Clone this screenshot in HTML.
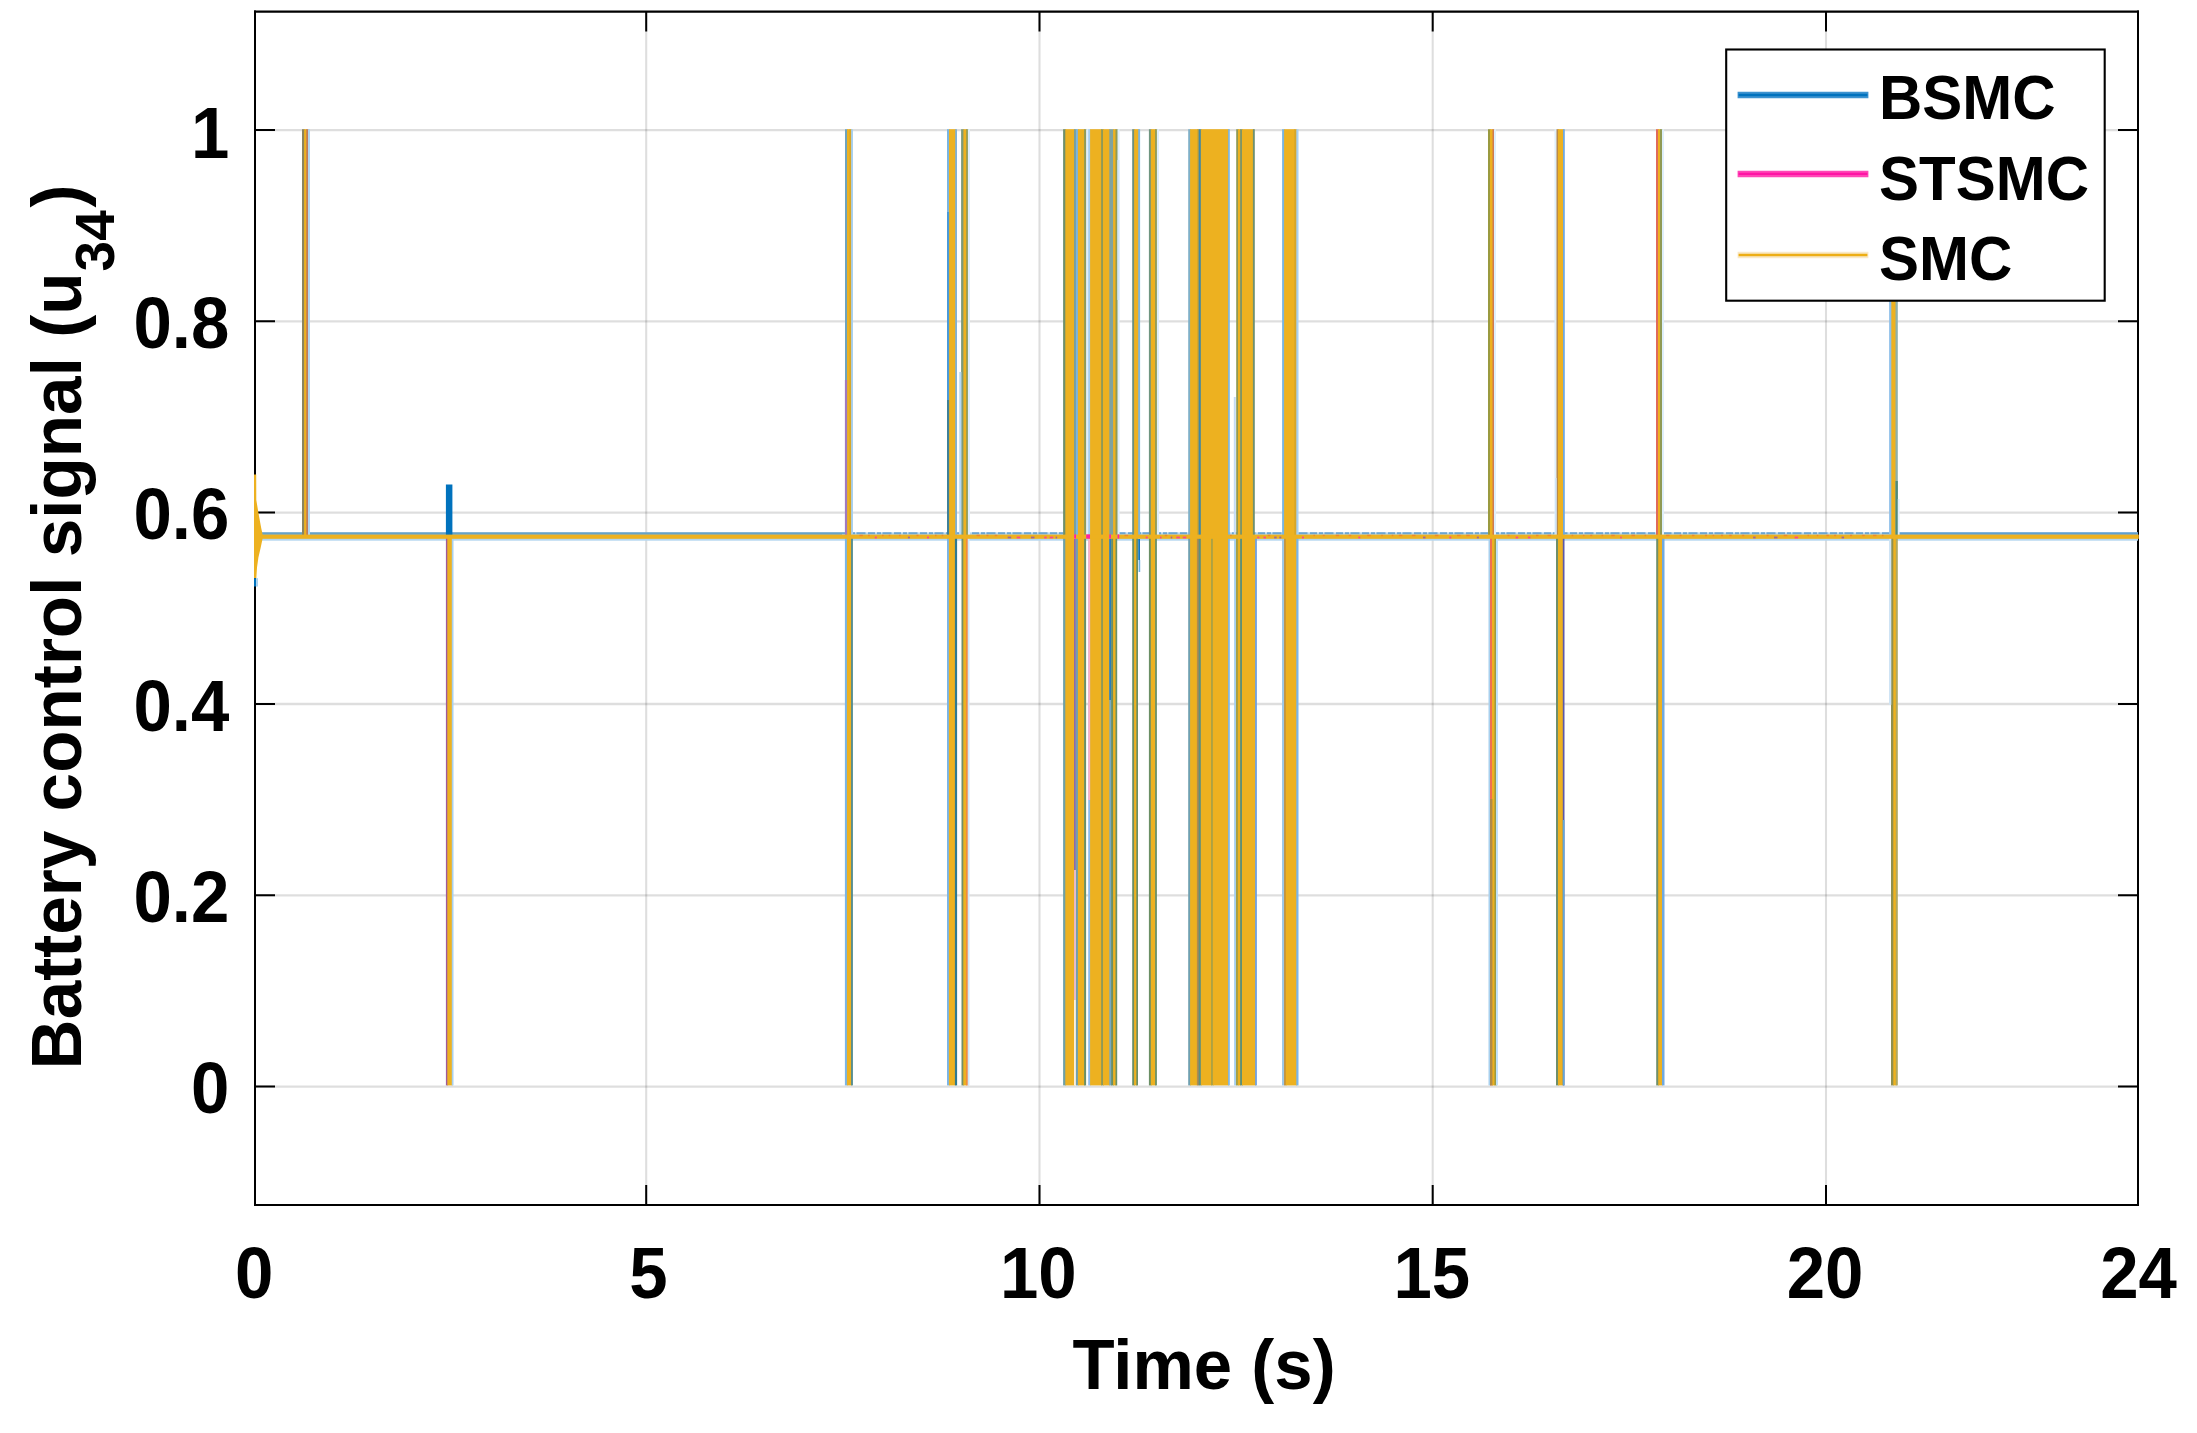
<!DOCTYPE html>
<html lang="en">
<head>
<meta charset="utf-8">
<title>Battery control signal (u34)</title>
<style>
html,body{margin:0;padding:0;background:#fff;}
body{width:2197px;height:1433px;overflow:hidden;}
svg{display:block;}
</style>
</head>
<body>
<svg width="2197" height="1433" viewBox="0 0 2197 1433" font-family="'Liberation Sans', sans-serif" font-weight="bold" shape-rendering="auto">
<rect x="0" y="0" width="2197" height="1433" fill="#ffffff"/>
<g stroke="#000" stroke-opacity="0.13" fill="none">
<line x1="646.2" y1="11.6" x2="646.2" y2="1205.0" stroke-width="2.1"/>
<line x1="1039.5" y1="11.6" x2="1039.5" y2="1205.0" stroke-width="2.1"/>
<line x1="1432.7" y1="11.6" x2="1432.7" y2="1205.0" stroke-width="2.1"/>
<line x1="1826.0" y1="11.6" x2="1826.0" y2="1205.0" stroke-width="2.1"/>
<line x1="255.0" y1="130.10" x2="2138.0" y2="130.10" stroke-width="2.3"/>
<line x1="255.0" y1="321.40" x2="2138.0" y2="321.40" stroke-width="2.3"/>
<line x1="255.0" y1="512.70" x2="2138.0" y2="512.70" stroke-width="2.3"/>
<line x1="255.0" y1="704.00" x2="2138.0" y2="704.00" stroke-width="2.3"/>
<line x1="255.0" y1="895.30" x2="2138.0" y2="895.30" stroke-width="2.3"/>
<line x1="255.0" y1="1086.60" x2="2138.0" y2="1086.60" stroke-width="2.3"/>
</g>
<g stroke="#000" stroke-width="2" fill="none" stroke-linecap="butt">
<path d="M255.0,10.6 V1206.0"/>
<path d="M2138.0,10.6 V1206.0"/>
<path d="M254.0,11.6 H2139.0" stroke-width="2.3"/>
<path d="M254.0,1205.0 H2139.0"/>
<path d="M646.2,1205.0 v-20 M646.2,11.6 v20"/>
<path d="M1039.5,1205.0 v-20 M1039.5,11.6 v20"/>
<path d="M1432.7,1205.0 v-20 M1432.7,11.6 v20"/>
<path d="M1826.0,1205.0 v-20 M1826.0,11.6 v20"/>
<path d="M255.0,130.0 h20 M2138.0,130.0 h-20"/>
<path d="M255.0,321.3 h20 M2138.0,321.3 h-20"/>
<path d="M255.0,512.6 h20 M2138.0,512.6 h-20"/>
<path d="M255.0,703.9 h20 M2138.0,703.9 h-20"/>
<path d="M255.0,895.2 h20 M2138.0,895.2 h-20"/>
<path d="M255.0,1086.5 h20 M2138.0,1086.5 h-20"/>
</g>
<g id="data">
<rect x="261.00" y="532.40" width="1877.00" height="8.30" fill="#b4d6f0"/>
<rect x="261.00" y="532.30" width="581.00" height="2.50" fill="#67a2c6"/>
<rect x="1898.00" y="532.30" width="240.00" height="2.50" fill="#5f9fd0"/>
<line x1="842" y1="533.3" x2="1898" y2="533.3" stroke="#6ba5d2" stroke-width="1.9" stroke-dasharray="7 2 4 1.5 9 2.5"/>
<rect x="445.90" y="484.50" width="6.50" height="51.70" fill="#0072bd"/>
<rect x="302.00" y="129.20" width="2.90" height="407.00" fill="#8a8560"/>
<rect x="304.10" y="129.20" width="3.00" height="407.00" fill="#edb120"/>
<rect x="306.30" y="129.20" width="2.50" height="407.00" fill="#c07a5a"/>
<rect x="308.00" y="129.20" width="2.00" height="407.00" fill="#b0d5f0"/>
<rect x="845.00" y="129.20" width="2.80" height="407.00" fill="#6fa3bd"/>
<rect x="847.00" y="129.20" width="3.30" height="407.00" fill="#edb120"/>
<rect x="849.50" y="129.20" width="2.40" height="407.00" fill="#d6a628"/>
<rect x="851.10" y="129.20" width="1.90" height="407.00" fill="#a8d0ee"/>
<rect x="947.00" y="129.20" width="2.80" height="407.00" fill="#7ab5e0"/>
<rect x="949.00" y="129.20" width="7.00" height="407.00" fill="#edb120"/>
<rect x="955.20" y="129.20" width="1.80" height="407.00" fill="#7fb0d5"/>
<rect x="961.10" y="129.20" width="3.10" height="407.00" fill="#7a9a7a"/>
<rect x="963.40" y="129.20" width="3.60" height="407.00" fill="#edb120"/>
<rect x="966.20" y="129.20" width="2.50" height="407.00" fill="#8f9a55"/>
<rect x="967.90" y="129.20" width="2.10" height="407.00" fill="#dfeffb"/>
<rect x="1063.10" y="129.20" width="3.00" height="407.00" fill="#6f8f6a"/>
<rect x="1065.30" y="129.20" width="9.50" height="407.00" fill="#edb120"/>
<rect x="1074.00" y="129.20" width="2.70" height="407.00" fill="#7a9f98"/>
<rect x="1075.90" y="129.20" width="2.80" height="407.00" fill="#7ab5e0"/>
<rect x="1077.90" y="129.20" width="7.00" height="407.00" fill="#edb120"/>
<rect x="1084.10" y="129.20" width="2.80" height="407.00" fill="#8f9a55"/>
<rect x="1086.10" y="129.20" width="2.90" height="407.00" fill="#dfeffb"/>
<rect x="1088.20" y="129.20" width="2.70" height="407.00" fill="#a8d0ee"/>
<rect x="1090.10" y="129.20" width="11.80" height="407.00" fill="#edb120"/>
<rect x="1101.10" y="129.20" width="2.70" height="407.00" fill="#8f9a55"/>
<rect x="1103.00" y="129.20" width="7.10" height="407.00" fill="#edb120"/>
<rect x="1109.30" y="129.20" width="4.60" height="407.00" fill="#7fa3a0"/>
<rect x="1113.10" y="129.20" width="3.20" height="407.00" fill="#edb120"/>
<rect x="1115.50" y="129.20" width="2.80" height="407.00" fill="#8f9a55"/>
<rect x="1117.50" y="129.20" width="2.10" height="407.00" fill="#dfeffb"/>
<rect x="1132.20" y="129.20" width="2.70" height="407.00" fill="#6a9080"/>
<rect x="1134.10" y="129.20" width="4.90" height="407.00" fill="#edb120"/>
<rect x="1138.20" y="129.20" width="1.90" height="407.00" fill="#7ab5e0"/>
<rect x="1148.90" y="129.20" width="2.70" height="407.00" fill="#6f9580"/>
<rect x="1150.80" y="129.20" width="5.10" height="407.00" fill="#edb120"/>
<rect x="1155.10" y="129.20" width="2.60" height="407.00" fill="#8f9a55"/>
<rect x="1156.90" y="129.20" width="2.10" height="407.00" fill="#dfeffb"/>
<rect x="1188.20" y="129.20" width="2.70" height="407.00" fill="#7fb0c8"/>
<rect x="1190.10" y="129.20" width="7.70" height="407.00" fill="#edb120"/>
<rect x="1197.00" y="129.20" width="2.40" height="407.00" fill="#d6a628"/>
<rect x="1198.60" y="129.20" width="3.00" height="407.00" fill="#3f88a5"/>
<rect x="1200.80" y="129.20" width="28.10" height="407.00" fill="#edb120"/>
<rect x="1228.10" y="129.20" width="1.70" height="407.00" fill="#7ab5e0"/>
<rect x="1236.20" y="129.20" width="2.60" height="407.00" fill="#8f9a55"/>
<rect x="1238.00" y="129.20" width="2.90" height="407.00" fill="#edb120"/>
<rect x="1240.10" y="129.20" width="2.70" height="407.00" fill="#7f9565"/>
<rect x="1242.00" y="129.20" width="11.70" height="407.00" fill="#edb120"/>
<rect x="1252.90" y="129.20" width="1.90" height="407.00" fill="#6f9070"/>
<rect x="1282.10" y="129.20" width="2.80" height="407.00" fill="#7ab5e0"/>
<rect x="1284.10" y="129.20" width="11.00" height="407.00" fill="#edb120"/>
<rect x="1294.30" y="129.20" width="2.80" height="407.00" fill="#d6a628"/>
<rect x="1296.30" y="129.20" width="2.20" height="407.00" fill="#a8d0ee"/>
<rect x="1488.00" y="129.20" width="2.80" height="407.00" fill="#9a9a40"/>
<rect x="1490.00" y="129.20" width="3.30" height="407.00" fill="#edb120"/>
<rect x="1492.50" y="129.20" width="2.30" height="407.00" fill="#d07a50"/>
<rect x="1494.00" y="129.20" width="2.00" height="407.00" fill="#dfeffb"/>
<rect x="1554.50" y="129.20" width="2.80" height="407.00" fill="#dfeffb"/>
<rect x="1556.50" y="129.20" width="2.30" height="407.00" fill="#b98a4a"/>
<rect x="1558.00" y="129.20" width="5.80" height="407.00" fill="#edb120"/>
<rect x="1563.00" y="129.20" width="1.80" height="407.00" fill="#6fa8e0"/>
<rect x="1656.00" y="129.20" width="2.80" height="407.00" fill="#e06a5a"/>
<rect x="1658.00" y="129.20" width="2.80" height="407.00" fill="#edb120"/>
<rect x="1660.00" y="129.20" width="2.80" height="407.00" fill="#8f9a55"/>
<rect x="1662.00" y="129.20" width="2.00" height="407.00" fill="#dfeffb"/>
<rect x="1889.10" y="129.20" width="3.00" height="407.00" fill="#8fc0ea"/>
<rect x="1891.30" y="129.20" width="5.00" height="407.00" fill="#edb120"/>
<rect x="1895.50" y="129.20" width="2.30" height="407.00" fill="#8fb0a8"/>
<rect x="445.90" y="536.20" width="2.20" height="549.20" fill="#a05a9a"/>
<rect x="447.30" y="536.20" width="5.30" height="549.20" fill="#edb120"/>
<rect x="451.80" y="536.20" width="1.70" height="549.20" fill="#a8d0ee"/>
<rect x="844.90" y="536.20" width="2.80" height="549.20" fill="#7ab5e8"/>
<rect x="846.90" y="536.20" width="5.00" height="549.20" fill="#edb120"/>
<rect x="851.10" y="536.20" width="1.80" height="549.20" fill="#4f8a90"/>
<rect x="947.00" y="536.20" width="2.70" height="549.20" fill="#7ab5e8"/>
<rect x="948.90" y="536.20" width="6.80" height="549.20" fill="#edb120"/>
<rect x="954.90" y="536.20" width="2.20" height="549.20" fill="#2f7890"/>
<rect x="961.50" y="536.20" width="2.60" height="549.20" fill="#6f8f6a"/>
<rect x="963.30" y="536.20" width="3.50" height="549.20" fill="#edb120"/>
<rect x="966.00" y="536.20" width="2.50" height="549.20" fill="#f08a40"/>
<rect x="967.70" y="536.20" width="1.80" height="549.20" fill="#cfe6fa"/>
<rect x="1063.10" y="536.20" width="3.00" height="549.20" fill="#6fa0a5"/>
<rect x="1065.30" y="536.20" width="9.50" height="549.20" fill="#edb120"/>
<rect x="1074.00" y="536.20" width="2.70" height="549.20" fill="#fdf0d8"/>
<rect x="1075.90" y="536.20" width="2.80" height="549.20" fill="#6fa0b0"/>
<rect x="1077.90" y="536.20" width="7.00" height="549.20" fill="#edb120"/>
<rect x="1084.10" y="536.20" width="2.00" height="549.20" fill="#6a8f65"/>
<rect x="1088.20" y="536.20" width="2.70" height="549.20" fill="#8fbff0"/>
<rect x="1090.10" y="536.20" width="11.80" height="549.20" fill="#edb120"/>
<rect x="1101.10" y="536.20" width="2.70" height="549.20" fill="#8f9a55"/>
<rect x="1103.00" y="536.20" width="7.10" height="549.20" fill="#edb120"/>
<rect x="1109.30" y="536.20" width="2.70" height="549.20" fill="#7aaac0"/>
<rect x="1111.20" y="536.20" width="2.70" height="549.20" fill="#6a8f65"/>
<rect x="1113.10" y="536.20" width="3.20" height="549.20" fill="#edb120"/>
<rect x="1115.50" y="536.20" width="1.70" height="549.20" fill="#6a8f65"/>
<rect x="1132.20" y="536.20" width="2.70" height="549.20" fill="#6a8f65"/>
<rect x="1134.10" y="536.20" width="3.00" height="549.20" fill="#edb120"/>
<rect x="1136.30" y="536.20" width="1.70" height="549.20" fill="#6a8f65"/>
<rect x="1148.90" y="536.20" width="2.70" height="549.20" fill="#6a8f65"/>
<rect x="1150.80" y="536.20" width="5.10" height="549.20" fill="#edb120"/>
<rect x="1155.10" y="536.20" width="1.80" height="549.20" fill="#6a8f65"/>
<rect x="1188.20" y="536.20" width="2.70" height="549.20" fill="#6fa0b0"/>
<rect x="1190.10" y="536.20" width="7.60" height="549.20" fill="#edb120"/>
<rect x="1196.90" y="536.20" width="2.50" height="549.20" fill="#b08a50"/>
<rect x="1198.60" y="536.20" width="3.00" height="549.20" fill="#5a8f80"/>
<rect x="1200.80" y="536.20" width="11.10" height="549.20" fill="#edb120"/>
<rect x="1211.10" y="536.20" width="2.50" height="549.20" fill="#a5a045"/>
<rect x="1212.80" y="536.20" width="16.10" height="549.20" fill="#edb120"/>
<rect x="1228.10" y="536.20" width="1.70" height="549.20" fill="#7ab5e8"/>
<rect x="1234.10" y="536.20" width="2.70" height="549.20" fill="#a8d0ee"/>
<rect x="1236.00" y="536.20" width="2.70" height="549.20" fill="#a5a045"/>
<rect x="1237.90" y="536.20" width="3.00" height="549.20" fill="#edb120"/>
<rect x="1240.10" y="536.20" width="2.70" height="549.20" fill="#5f9075"/>
<rect x="1242.00" y="536.20" width="13.90" height="549.20" fill="#edb120"/>
<rect x="1255.10" y="536.20" width="1.80" height="549.20" fill="#6fa0e0"/>
<rect x="1282.00" y="536.20" width="2.90" height="549.20" fill="#9fc8e8"/>
<rect x="1284.10" y="536.20" width="2.40" height="549.20" fill="#c0903a"/>
<rect x="1285.70" y="536.20" width="11.40" height="549.20" fill="#edb120"/>
<rect x="1296.30" y="536.20" width="2.20" height="549.20" fill="#7ab5e8"/>
<rect x="1488.50" y="536.20" width="2.30" height="549.20" fill="#a8d0ee"/>
<rect x="1490.00" y="536.20" width="2.80" height="549.20" fill="#f07050"/>
<rect x="1492.00" y="536.20" width="3.30" height="549.20" fill="#edb120"/>
<rect x="1494.50" y="536.20" width="2.30" height="549.20" fill="#9a9a40"/>
<rect x="1496.00" y="536.20" width="2.00" height="549.20" fill="#c0e0f8"/>
<rect x="1556.00" y="536.20" width="2.80" height="549.20" fill="#6f8f6a"/>
<rect x="1558.00" y="536.20" width="5.60" height="549.20" fill="#edb120"/>
<rect x="1562.80" y="536.20" width="1.70" height="549.20" fill="#5a58a8"/>
<rect x="1656.20" y="536.20" width="2.80" height="549.20" fill="#6f8f6a"/>
<rect x="1658.20" y="536.20" width="4.60" height="549.20" fill="#edb120"/>
<rect x="1662.00" y="536.20" width="2.50" height="549.20" fill="#6fa8e0"/>
<rect x="1891.00" y="536.20" width="3.10" height="549.20" fill="#8f9050"/>
<rect x="1893.30" y="536.20" width="3.30" height="549.20" fill="#edb120"/>
<rect x="1895.80" y="536.20" width="2.00" height="549.20" fill="#b0a860"/>
<rect x="1889.00" y="536.20" width="2.30" height="168.60" fill="#cfe4f5"/>
<rect x="1490.00" y="799.00" width="2.40" height="286.40" fill="#b08a48"/>
<rect x="1562.80" y="820.00" width="1.70" height="265.40" fill="#5fa8d8"/>
<rect x="959.30" y="372.00" width="2.10" height="164.20" fill="#b5d8f3"/>
<rect x="844.90" y="380.00" width="2.20" height="156.20" fill="#9f7ac0"/>
<rect x="947.00" y="212.00" width="2.10" height="188.00" fill="#4a9ad8"/>
<rect x="947.00" y="400.00" width="2.10" height="136.20" fill="#3f8098"/>
<rect x="1233.80" y="397.00" width="2.00" height="139.20" fill="#c5dcf5"/>
<rect x="1117.40" y="160.00" width="2.00" height="140.00" fill="#cfe6fa"/>
<rect x="1555.00" y="478.00" width="1.60" height="58.20" fill="#cfe4f7"/>
<rect x="1895.50" y="481.00" width="2.30" height="55.20" fill="#4f8a78"/>
<rect x="1897.80" y="499.00" width="1.80" height="37.20" fill="#e0f0fc"/>
<rect x="256.00" y="534.60" width="1882.80" height="4.20" fill="#edb120"/>
<rect x="859.37" y="534.80" width="3.50" height="1.40" fill="#f0862e"/>
<rect x="868.13" y="534.80" width="1.50" height="1.40" fill="#f0862e"/>
<rect x="874.80" y="536.60" width="2.00" height="1.80" fill="#ff2aa6" fill-opacity="0.75"/>
<rect x="882.05" y="534.80" width="1.50" height="1.40" fill="#f0862e"/>
<rect x="888.73" y="534.80" width="1.50" height="1.40" fill="#f0862e"/>
<rect x="899.06" y="534.80" width="1.50" height="1.40" fill="#f0862e"/>
<rect x="907.90" y="536.60" width="2.00" height="1.80" fill="#8a4fb0" fill-opacity="0.75"/>
<rect x="916.55" y="534.80" width="2.00" height="1.40" fill="#f0862e"/>
<rect x="927.01" y="536.60" width="2.00" height="1.80" fill="#ff2aa6" fill-opacity="0.75"/>
<rect x="935.01" y="534.80" width="1.50" height="1.40" fill="#f0862e"/>
<rect x="941.71" y="534.80" width="1.50" height="1.40" fill="#f0862e"/>
<rect x="976.51" y="534.80" width="3.50" height="1.40" fill="#f0862e"/>
<rect x="986.40" y="534.80" width="2.00" height="1.40" fill="#f0862e"/>
<rect x="994.76" y="534.80" width="2.50" height="1.40" fill="#f0862e"/>
<rect x="1007.66" y="536.60" width="3.50" height="1.80" fill="#8a4fb0" fill-opacity="0.75"/>
<rect x="1016.72" y="536.60" width="3.50" height="1.80" fill="#ff2aa6" fill-opacity="0.75"/>
<rect x="1030.99" y="536.60" width="3.50" height="1.80" fill="#8a4fb0" fill-opacity="0.75"/>
<rect x="1044.19" y="536.60" width="2.50" height="1.80" fill="#ff2aa6" fill-opacity="0.75"/>
<rect x="1049.68" y="536.60" width="3.50" height="1.80" fill="#ff2aa6" fill-opacity="0.75"/>
<rect x="1055.63" y="536.60" width="1.50" height="1.80" fill="#8a4fb0" fill-opacity="0.75"/>
<rect x="1124.52" y="534.80" width="3.50" height="1.40" fill="#f0862e"/>
<rect x="1145.75" y="536.60" width="2.00" height="1.80" fill="#ff2aa6" fill-opacity="0.75"/>
<rect x="1160.02" y="536.60" width="1.50" height="1.80" fill="#ff2aa6" fill-opacity="0.75"/>
<rect x="1164.79" y="534.80" width="2.50" height="1.40" fill="#f0862e"/>
<rect x="1170.75" y="536.60" width="1.50" height="1.80" fill="#8a4fb0" fill-opacity="0.75"/>
<rect x="1176.33" y="536.60" width="3.50" height="1.80" fill="#ff2aa6" fill-opacity="0.75"/>
<rect x="1182.79" y="536.60" width="3.50" height="1.80" fill="#ff2aa6" fill-opacity="0.75"/>
<rect x="1230.14" y="534.80" width="1.50" height="1.40" fill="#f0862e"/>
<rect x="1257.33" y="536.60" width="2.00" height="1.80" fill="#ff2aa6" fill-opacity="0.75"/>
<rect x="1263.42" y="536.60" width="2.50" height="1.80" fill="#ff2aa6" fill-opacity="0.75"/>
<rect x="1267.78" y="534.80" width="2.50" height="1.40" fill="#f0862e"/>
<rect x="1274.15" y="536.60" width="2.50" height="1.80" fill="#8a4fb0" fill-opacity="0.75"/>
<rect x="1279.31" y="536.60" width="2.00" height="1.80" fill="#8a4fb0" fill-opacity="0.75"/>
<rect x="1301.98" y="536.60" width="2.00" height="1.80" fill="#ff2aa6" fill-opacity="0.75"/>
<rect x="1313.46" y="534.80" width="1.50" height="1.40" fill="#f0862e"/>
<rect x="1322.78" y="534.80" width="2.00" height="1.40" fill="#f0862e"/>
<rect x="1335.70" y="534.80" width="3.50" height="1.40" fill="#f0862e"/>
<rect x="1348.63" y="534.80" width="2.50" height="1.40" fill="#f0862e"/>
<rect x="1358.27" y="536.60" width="2.00" height="1.80" fill="#ff2aa6" fill-opacity="0.75"/>
<rect x="1367.23" y="534.80" width="3.50" height="1.40" fill="#f0862e"/>
<rect x="1381.29" y="534.80" width="1.50" height="1.40" fill="#f0862e"/>
<rect x="1391.77" y="534.80" width="1.50" height="1.40" fill="#f0862e"/>
<rect x="1398.84" y="534.80" width="3.50" height="1.40" fill="#f0862e"/>
<rect x="1411.94" y="534.80" width="3.50" height="1.40" fill="#f0862e"/>
<rect x="1423.01" y="536.60" width="2.50" height="1.80" fill="#8a4fb0" fill-opacity="0.75"/>
<rect x="1434.93" y="534.80" width="3.50" height="1.40" fill="#f0862e"/>
<rect x="1449.29" y="536.60" width="2.00" height="1.80" fill="#ff2aa6" fill-opacity="0.75"/>
<rect x="1457.06" y="534.80" width="3.50" height="1.40" fill="#f0862e"/>
<rect x="1466.30" y="534.80" width="3.50" height="1.40" fill="#f0862e"/>
<rect x="1476.84" y="536.60" width="2.00" height="1.80" fill="#8a4fb0" fill-opacity="0.75"/>
<rect x="1507.53" y="534.80" width="2.00" height="1.40" fill="#f0862e"/>
<rect x="1515.68" y="536.60" width="2.50" height="1.80" fill="#ff2aa6" fill-opacity="0.75"/>
<rect x="1527.87" y="536.60" width="2.50" height="1.80" fill="#ff2aa6" fill-opacity="0.75"/>
<rect x="1536.01" y="534.80" width="2.50" height="1.40" fill="#f0862e"/>
<rect x="1547.55" y="534.80" width="3.50" height="1.40" fill="#f0862e"/>
<rect x="1571.67" y="534.80" width="1.50" height="1.40" fill="#f0862e"/>
<rect x="1582.94" y="534.80" width="1.50" height="1.40" fill="#f0862e"/>
<rect x="1590.20" y="534.80" width="2.00" height="1.40" fill="#f0862e"/>
<rect x="1601.64" y="534.80" width="1.50" height="1.40" fill="#f0862e"/>
<rect x="1611.26" y="534.80" width="3.50" height="1.40" fill="#f0862e"/>
<rect x="1620.24" y="536.60" width="1.50" height="1.80" fill="#ff2aa6" fill-opacity="0.75"/>
<rect x="1631.48" y="534.80" width="3.50" height="1.40" fill="#f0862e"/>
<rect x="1644.65" y="534.80" width="1.50" height="1.40" fill="#f0862e"/>
<rect x="1666.10" y="534.80" width="3.50" height="1.40" fill="#f0862e"/>
<rect x="1679.57" y="534.80" width="2.00" height="1.40" fill="#f0862e"/>
<rect x="1691.98" y="534.80" width="2.50" height="1.40" fill="#f0862e"/>
<rect x="1704.99" y="534.80" width="2.00" height="1.40" fill="#f0862e"/>
<rect x="1712.67" y="534.80" width="1.50" height="1.40" fill="#f0862e"/>
<rect x="1720.99" y="534.80" width="2.00" height="1.40" fill="#f0862e"/>
<rect x="1729.15" y="534.80" width="2.50" height="1.40" fill="#f0862e"/>
<rect x="1742.19" y="534.80" width="2.00" height="1.40" fill="#f0862e"/>
<rect x="1753.11" y="536.60" width="2.50" height="1.80" fill="#8a4fb0" fill-opacity="0.75"/>
<rect x="1766.60" y="534.80" width="2.00" height="1.40" fill="#f0862e"/>
<rect x="1774.01" y="536.60" width="3.50" height="1.80" fill="#8a4fb0" fill-opacity="0.75"/>
<rect x="1783.74" y="534.80" width="3.50" height="1.40" fill="#f0862e"/>
<rect x="1794.62" y="536.60" width="3.50" height="1.80" fill="#ff2aa6" fill-opacity="0.75"/>
<rect x="1807.54" y="534.80" width="1.50" height="1.40" fill="#f0862e"/>
<rect x="1816.78" y="534.80" width="1.50" height="1.40" fill="#f0862e"/>
<rect x="1826.39" y="534.80" width="2.50" height="1.40" fill="#f0862e"/>
<rect x="1834.10" y="534.80" width="2.00" height="1.40" fill="#f0862e"/>
<rect x="1841.57" y="536.60" width="2.50" height="1.80" fill="#8a4fb0" fill-opacity="0.75"/>
<rect x="1850.04" y="534.80" width="2.00" height="1.40" fill="#f0862e"/>
<rect x="1862.27" y="534.80" width="2.50" height="1.40" fill="#f0862e"/>
<rect x="1873.01" y="534.80" width="3.50" height="1.40" fill="#f0862e"/>
<rect x="1881.88" y="534.80" width="1.50" height="1.40" fill="#f0862e"/>
<rect x="1074.20" y="534.40" width="1.80" height="4.20" fill="#ff1fa8"/>
<rect x="1086.20" y="534.40" width="3.80" height="4.20" fill="#ff1fa8"/>
<rect x="1109.30" y="534.40" width="1.60" height="4.20" fill="#ff1fa8"/>
<rect x="1117.60" y="534.40" width="1.60" height="4.20" fill="#ff1fa8"/>
<rect x="1074.00" y="539.00" width="1.90" height="331.00" fill="#8a6fa3"/>
<rect x="1074.00" y="870.00" width="1.90" height="130.00" fill="#e9b7c4"/>
<rect x="1088.20" y="539.00" width="1.90" height="261.00" fill="#ffb3c4"/>
<rect x="1109.30" y="539.00" width="1.70" height="161.00" fill="#2a7db8"/>
<rect x="1138.20" y="539.00" width="1.80" height="21.00" fill="#0f75bd"/>
<rect x="1138.60" y="560.00" width="1.60" height="12.00" fill="#6aaee0"/>
<path d="M254,474.6 L256.2,474.6 L256.3,500 L258.4,512.7 L261.2,528 L262.5,534 L262.5,539 L260.6,548 L258.4,557.6 L257,567.4 L256.3,578.2 L254,578.2 Z" fill="#edb120"/>
<rect x="254.00" y="578.20" width="2.20" height="8.30" fill="#0072bd"/>
<rect x="256.20" y="578.20" width="1.80" height="8.30" fill="#a8d0ee"/>
</g>
<g id="xticklabels">
<text transform="translate(254.10,1297.60) scale(1,1.035)" font-size="69" text-anchor="middle" fill="#000">0</text>
<text transform="translate(648.50,1297.60) scale(1,1.035)" font-size="69" text-anchor="middle" fill="#000">5</text>
<text transform="translate(1038.30,1297.60) scale(1,1.035)" font-size="69" text-anchor="middle" fill="#000">10</text>
<text transform="translate(1431.80,1297.60) scale(1,1.035)" font-size="69" text-anchor="middle" fill="#000">15</text>
<text transform="translate(1825.00,1297.60) scale(1,1.035)" font-size="69" text-anchor="middle" fill="#000">20</text>
<text transform="translate(2138.50,1297.60) scale(1,1.035)" font-size="69" text-anchor="middle" fill="#000">24</text>
</g>
<g id="yticklabels">
<text transform="translate(229.30,158.00) scale(1,1.035)" font-size="69" text-anchor="end" fill="#000">1</text>
<text transform="translate(229.30,347.90) scale(1,1.035)" font-size="69" text-anchor="end" fill="#000">0.8</text>
<text transform="translate(229.30,539.20) scale(1,1.035)" font-size="69" text-anchor="end" fill="#000">0.6</text>
<text transform="translate(229.30,730.50) scale(1,1.035)" font-size="69" text-anchor="end" fill="#000">0.4</text>
<text transform="translate(229.30,921.80) scale(1,1.035)" font-size="69" text-anchor="end" fill="#000">0.2</text>
<text transform="translate(229.30,1113.10) scale(1,1.035)" font-size="69" text-anchor="end" fill="#000">0</text>
</g>
<text transform="translate(1204.00,1388.80) scale(1,1.015)" font-size="69" text-anchor="middle" fill="#000">Time (s)</text>
<text transform="translate(81.0,1069.4) rotate(-90) scale(1,1.015)" font-size="69.3" fill="#000">Battery control signal (u<tspan font-size="55" dx="1" dy="32.6">34</tspan><tspan dx="2.8" dy="-32.6">)</tspan></text>
<g id="legend">
<rect x="1726.2" y="49.5" width="378.5" height="251.2" fill="#fff" stroke="#000" stroke-width="2.1"/>
<line x1="1737.6" y1="95.0" x2="1868.4" y2="95.0" stroke="#3d93d0" stroke-width="6.5"/>
<line x1="1738.6" y1="95.0" x2="1867.4" y2="95.0" stroke="#0072bd" stroke-width="2.3"/>
<line x1="1737.6" y1="173.9" x2="1868.4" y2="173.9" stroke="#ff47b6" stroke-width="6.5"/>
<line x1="1738.6" y1="173.9" x2="1867.4" y2="173.9" stroke="#ff14a5" stroke-width="2.3"/>
<line x1="1737.6" y1="255.0" x2="1868.4" y2="255.0" stroke="#f9e9c8" stroke-width="6.4"/>
<line x1="1738.6" y1="255.0" x2="1867.4" y2="255.0" stroke="#edae14" stroke-width="2.3"/>
<text transform="translate(1879.00,119.00) scale(1,1.045)" font-size="60" text-anchor="start" fill="#000">BSMC</text>
<text transform="translate(1879.00,200.00) scale(1,1.045)" font-size="60" text-anchor="start" fill="#000">STSMC</text>
<text transform="translate(1879.00,280.20) scale(1,1.045)" font-size="60" text-anchor="start" fill="#000">SMC</text>
</g>
</svg>
</body>
</html>
